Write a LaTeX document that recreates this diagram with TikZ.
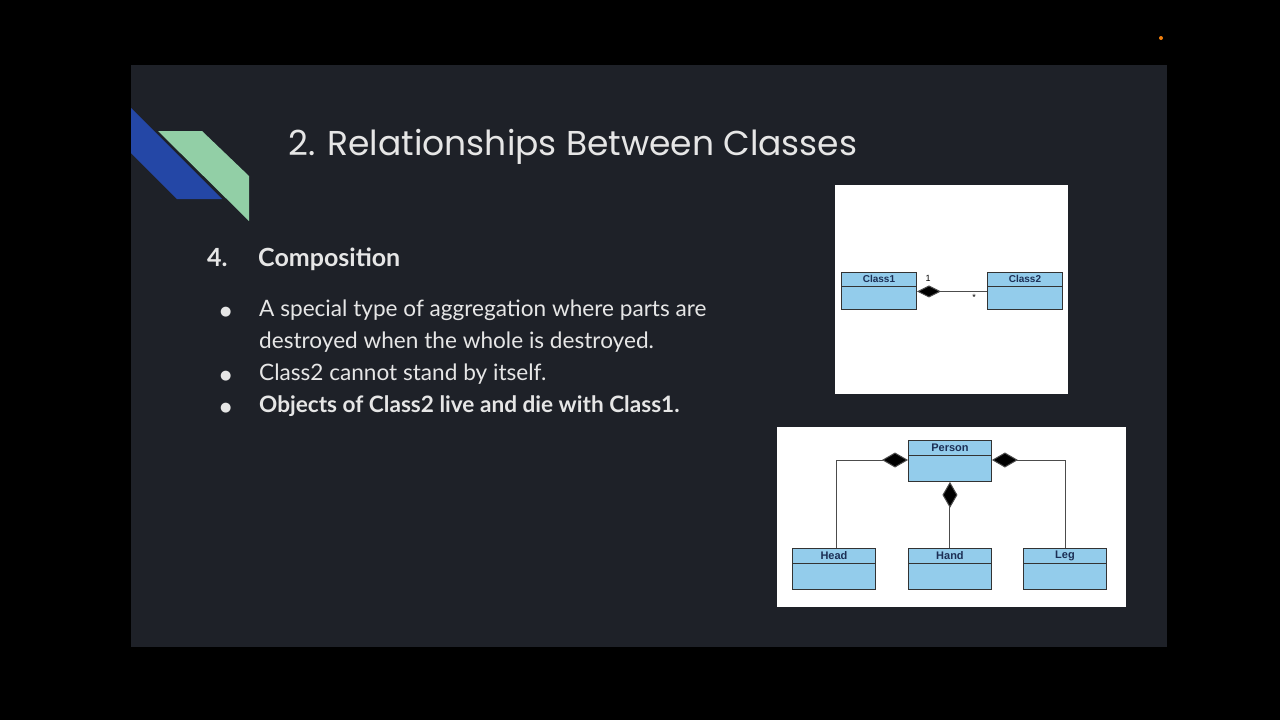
\documentclass[tikz,border=0pt]{standalone}
\usepackage{fontspec}
\setmainfont{Lato}
\newfontfamily\dejavu{DejaVu Sans}
\newfontfamily\titlefont{Poppins}
\newfontfamily\arialfont{Liberation Sans}
\usetikzlibrary{arrows.meta,calc}
\definecolor{slide}{HTML}{1E2128}
\definecolor{txt}{HTML}{E6E6E6}
\definecolor{umlfill}{HTML}{93CCEB}
\definecolor{umltxt}{HTML}{1C2F55}
\definecolor{dblue}{HTML}{2447A6}
\definecolor{dgreen}{HTML}{92CFA6}
\tikzset{
  umlbox/.style={draw=black!80,line width=0.9pt,fill=umlfill,anchor=north west,inner sep=0pt,minimum width=#1},
  umlbox/.default=75pt,
  lbl/.style={font=\arialfont\fontsize{11}{12}\selectfont\bfseries,text=umltxt},
  body/.style={anchor=base west,text=txt,font=\fontsize{22.6}{27}\selectfont,inner sep=0pt},
  bul/.style={anchor=base west,text=txt,font=\dejavu\fontsize{13}{15}\selectfont,inner sep=0pt},
  comp/.style={draw=black!70,line width=1pt,{Diamond[length=26pt,width=15pt,fill=black]}-},
}
\begin{document}
\begin{tikzpicture}[x=1pt,y=-1pt]
\fill[black] (0,0) rectangle (1280,720);
\useasboundingbox (0,0) rectangle (1280,720);
\fill[slide] (131,65) rectangle (1167,647);
\fill[dblue] (131,108) -- (222,199) -- (177,199) -- (131,153) -- cycle;
\fill[dgreen] (158,131) -- (202,131) -- (249,176) -- (249,221) -- cycle;
\fill[orange!80!brown] (1161,38) circle (2);
\node[anchor=base west,text=txt,font=\titlefont\fontsize{34.5}{40}\selectfont,inner sep=0pt] (title) at (288,155) {2. Relationships Between Classes};
\node[anchor=base west,text=txt,font=\fontsize{25}{30}\selectfont\bfseries,inner sep=0pt] (num) at (207,266) {4.};
\node[anchor=base west,text=txt,font=\fontsize{25}{30}\selectfont\bfseries,inner sep=0pt] (head) at (258,266) {Composition};
\node[bul] (b1) at (220,315) {●};
\node[body] (t1) at (259,316) {A special type of aggregation where parts are};
\node[body] (t1b) at (259,348) {destroyed when the whole is destroyed.};
\node[bul] (b2) at (220,379) {●};
\node[body] (t2) at (259,380) {Class2 cannot stand by itself.};
\node[bul] (b3) at (220,411) {●};
\node[body,font=\fontsize{22.6}{27}\selectfont\bfseries] (t3) at (259,412) {Objects of Class2 live and die with Class1.};
% top panel
\fill[white] (835,185) rectangle (1068,394);
\node[umlbox,minimum height=37pt] (c1) at (841,272) {};
\node[umlbox,minimum height=37pt] (c2) at (987,272) {};
\foreach \n/\t in {c1/Class1,c2/Class2}{
  \draw[black!80,line width=0.9pt] ($(\n.north west)+(0,14)$) -- ($(\n.north east)+(0,14)$);
  \node[lbl,font=\arialfont\fontsize{10}{11}\selectfont\bfseries] at ($(\n.north)+(0,7)$) {\t};
}
\draw[comp,{Diamond[length=24pt,width=12pt,fill=black]}-] ($(c1.east)+(0,0.5)$) -- ($(c2.west)+(0,0.5)$);
\node[font=\arialfont\fontsize{9}{10}\selectfont] (m1) at (928,278) {1};
\node[font=\arialfont\fontsize{9}{10}\selectfont] (m2) at (974,297) {*};
% bottom panel
\fill[white] (777,427) rectangle (1126,607);
\node[umlbox=83pt,minimum height=41pt] (p) at (908,440) {};
\node[umlbox=83pt,minimum height=41pt] (hd) at (792,548) {};
\node[umlbox=83pt,minimum height=41pt] (hn) at (908,548) {};
\node[umlbox=83pt,minimum height=41pt] (lg) at (1023,548) {};
\foreach \n/\t in {p/Person,hd/Head,hn/Hand,lg/Leg}{
  \draw[black!80,line width=0.9pt] ($(\n.north west)+(0,15)$) -- ($(\n.north east)+(0,15)$);
  \node[lbl] at ($(\n.north)+(0,7.5)$) {\t};
}
\draw[comp] (p.west |- 0,460) -| (hd.north -| 836,0);
\draw[comp] (p.east |- 0,460) -| (lg.north -| 1065,0);
\draw[comp] (p.south) -- (hn.north);
\end{tikzpicture}
\end{document}
